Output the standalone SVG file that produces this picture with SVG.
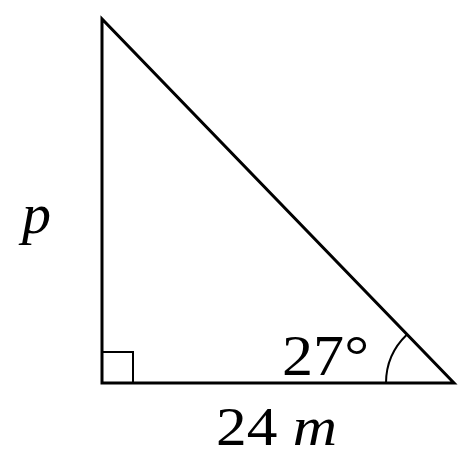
<svg xmlns="http://www.w3.org/2000/svg" width="474" height="470" viewBox="0 0 474 470">
<style>
.edge{fill:none;stroke:#000;stroke-width:3;stroke-linejoin:miter;stroke-linecap:square}
.thin{fill:none;stroke:#000;stroke-width:2}
.lbl{font-family:"Liberation Serif","DejaVu Serif",serif;fill:#000}
</style>
<rect width="474" height="470" fill="#fff"/>
<g id="triangle">
<polygon class="edge" points="102,19 102,383 454,383"/>
</g>
<g id="connectors">
<path class="thin" d="M103 352 H133 V383"/>
<path class="thin" d="M386 383 A67 67 0 0 1 406.5 335"/>
</g>
<g id="label-p"><text class="lbl" x="22" y="233" font-size="58" font-style="italic">p</text></g>
<g id="label-angle"><text class="lbl" x="282" y="375" font-size="57" textLength="87" lengthAdjust="spacingAndGlyphs">27°</text></g>
<g id="label-base"><text class="lbl" x="216" y="445" font-size="55" textLength="121" lengthAdjust="spacingAndGlyphs">24 <tspan font-style="italic">m</tspan></text></g>
</svg>
